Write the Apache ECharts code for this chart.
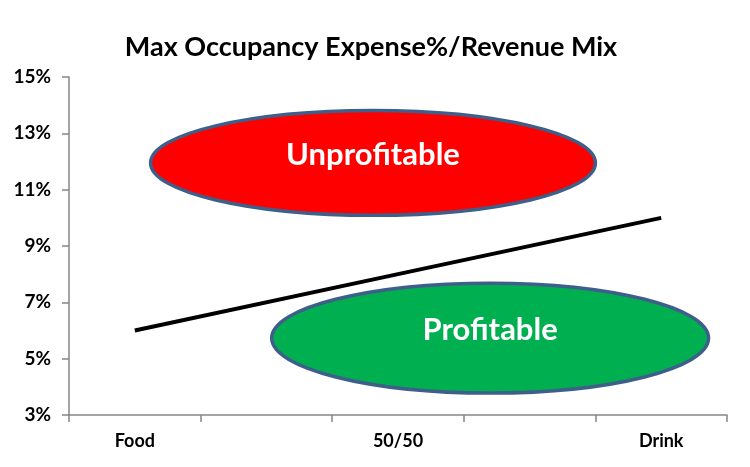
<!DOCTYPE html>
<html>
<head>
<meta charset="utf-8">
<script src="https://cdn.jsdelivr.net/npm/echarts@6/dist/echarts.min.js"></script>
<style>
  html, body { margin: 0; padding: 0; background: #fff; }
  #chart { width: 750px; height: 467px; }
</style>
</head>
<body>
<div id="chart"></div>
<script>
// categories along the mix axis (blank slots sit between the labelled ones)
const categories = ['Food', '', '50/50', '', 'Drink'];
// max occupancy expense % at each mix
const maxExpense = [6, null, 8, null, 10];
// y axis tick labels
const yTicks = [3, 5, 7, 9, 11, 13, 15];
// zones: [centre x (category index), centre y %, half width (categories), half height %]
const zoneNames = ['Unprofitable', 'Profitable'];
const zoneShapes = [
    [1.81, 11.95, 1.69, 1.86],
    [2.70, 5.73, 1.66, 1.95]
];
const zoneColors = ['#ff0000', '#00b050'];

const chart = echarts.init(document.getElementById('chart'));
const font = 'Lato, "Open Sans", sans-serif';

chart.setOption({
    animation: false,
    title: {
        text: 'Max Occupancy Expense%/Revenue Mix',
        left: 366, top: 29, textAlign: 'center',
        textStyle: { fontFamily: font, fontWeight: 'bold', fontSize: 27, color: '#000' }
    },
    grid: { left: 69, right: 23, top: 77, bottom: 52 },
    xAxis: [{
        type: 'category',
        data: categories,
        boundaryGap: true,
        axisLine: { onZero: false, lineStyle: { color: '#868686', width: 1.5 } },
        axisTick: { show: true, length: 7, alignWithLabel: false, interval: 0, lineStyle: { color: '#868686', width: 1.5 } },
        axisLabel: { interval: 0, margin: 17, fontFamily: font, fontWeight: 'bold', fontSize: 18, color: '#000' }
    }, {
        type: 'value', min: -0.5, max: 4.5, show: false
    }],
    yAxis: {
        type: 'value', min: 3, max: 15,
        splitLine: { show: false },
        axisLine: { show: true, onZero: false, lineStyle: { color: '#868686', width: 1.5 } },
        axisTick: { show: true, length: 7, customValues: yTicks, lineStyle: { color: '#868686', width: 1.5 } },
        axisLabel: {
            customValues: yTicks, margin: 18,
            formatter: v => v + '%',
            fontFamily: font, fontWeight: 'bold', fontSize: 19, color: '#000'
        }
    },
    series: [{
        type: 'line',
        data: maxExpense,
        connectNulls: true,
        symbol: 'none',
        lineStyle: { color: '#000', width: 4 },
        z: 3
    }, {
        type: 'custom',
        xAxisIndex: 1,
        data: zoneShapes,
        z: 4,
        renderItem: function (params, api) {
            const c = api.coord([api.value(0), api.value(1)]);
            const e = api.coord([api.value(0) + api.value(2), api.value(1) + api.value(3)]);
            const rx = Math.abs(e[0] - c[0]);
            const ry = Math.abs(c[1] - e[1]);
            return {
                type: 'group',
                children: [{
                    type: 'ellipse',
                    shape: { cx: c[0], cy: c[1], rx: rx, ry: ry },
                    style: { fill: zoneColors[params.dataIndex], stroke: '#3e5f8a', lineWidth: 3.5 }
                }, {
                    type: 'text',
                    x: c[0], y: c[1] - 8,
                    style: {
                        text: zoneNames[params.dataIndex],
                        fill: '#fff', fontFamily: font, fontWeight: 'bold', fontSize: 31,
                        align: 'center', verticalAlign: 'middle'
                    }
                }]
            };
        }
    }]
});
</script>
</body>
</html>
